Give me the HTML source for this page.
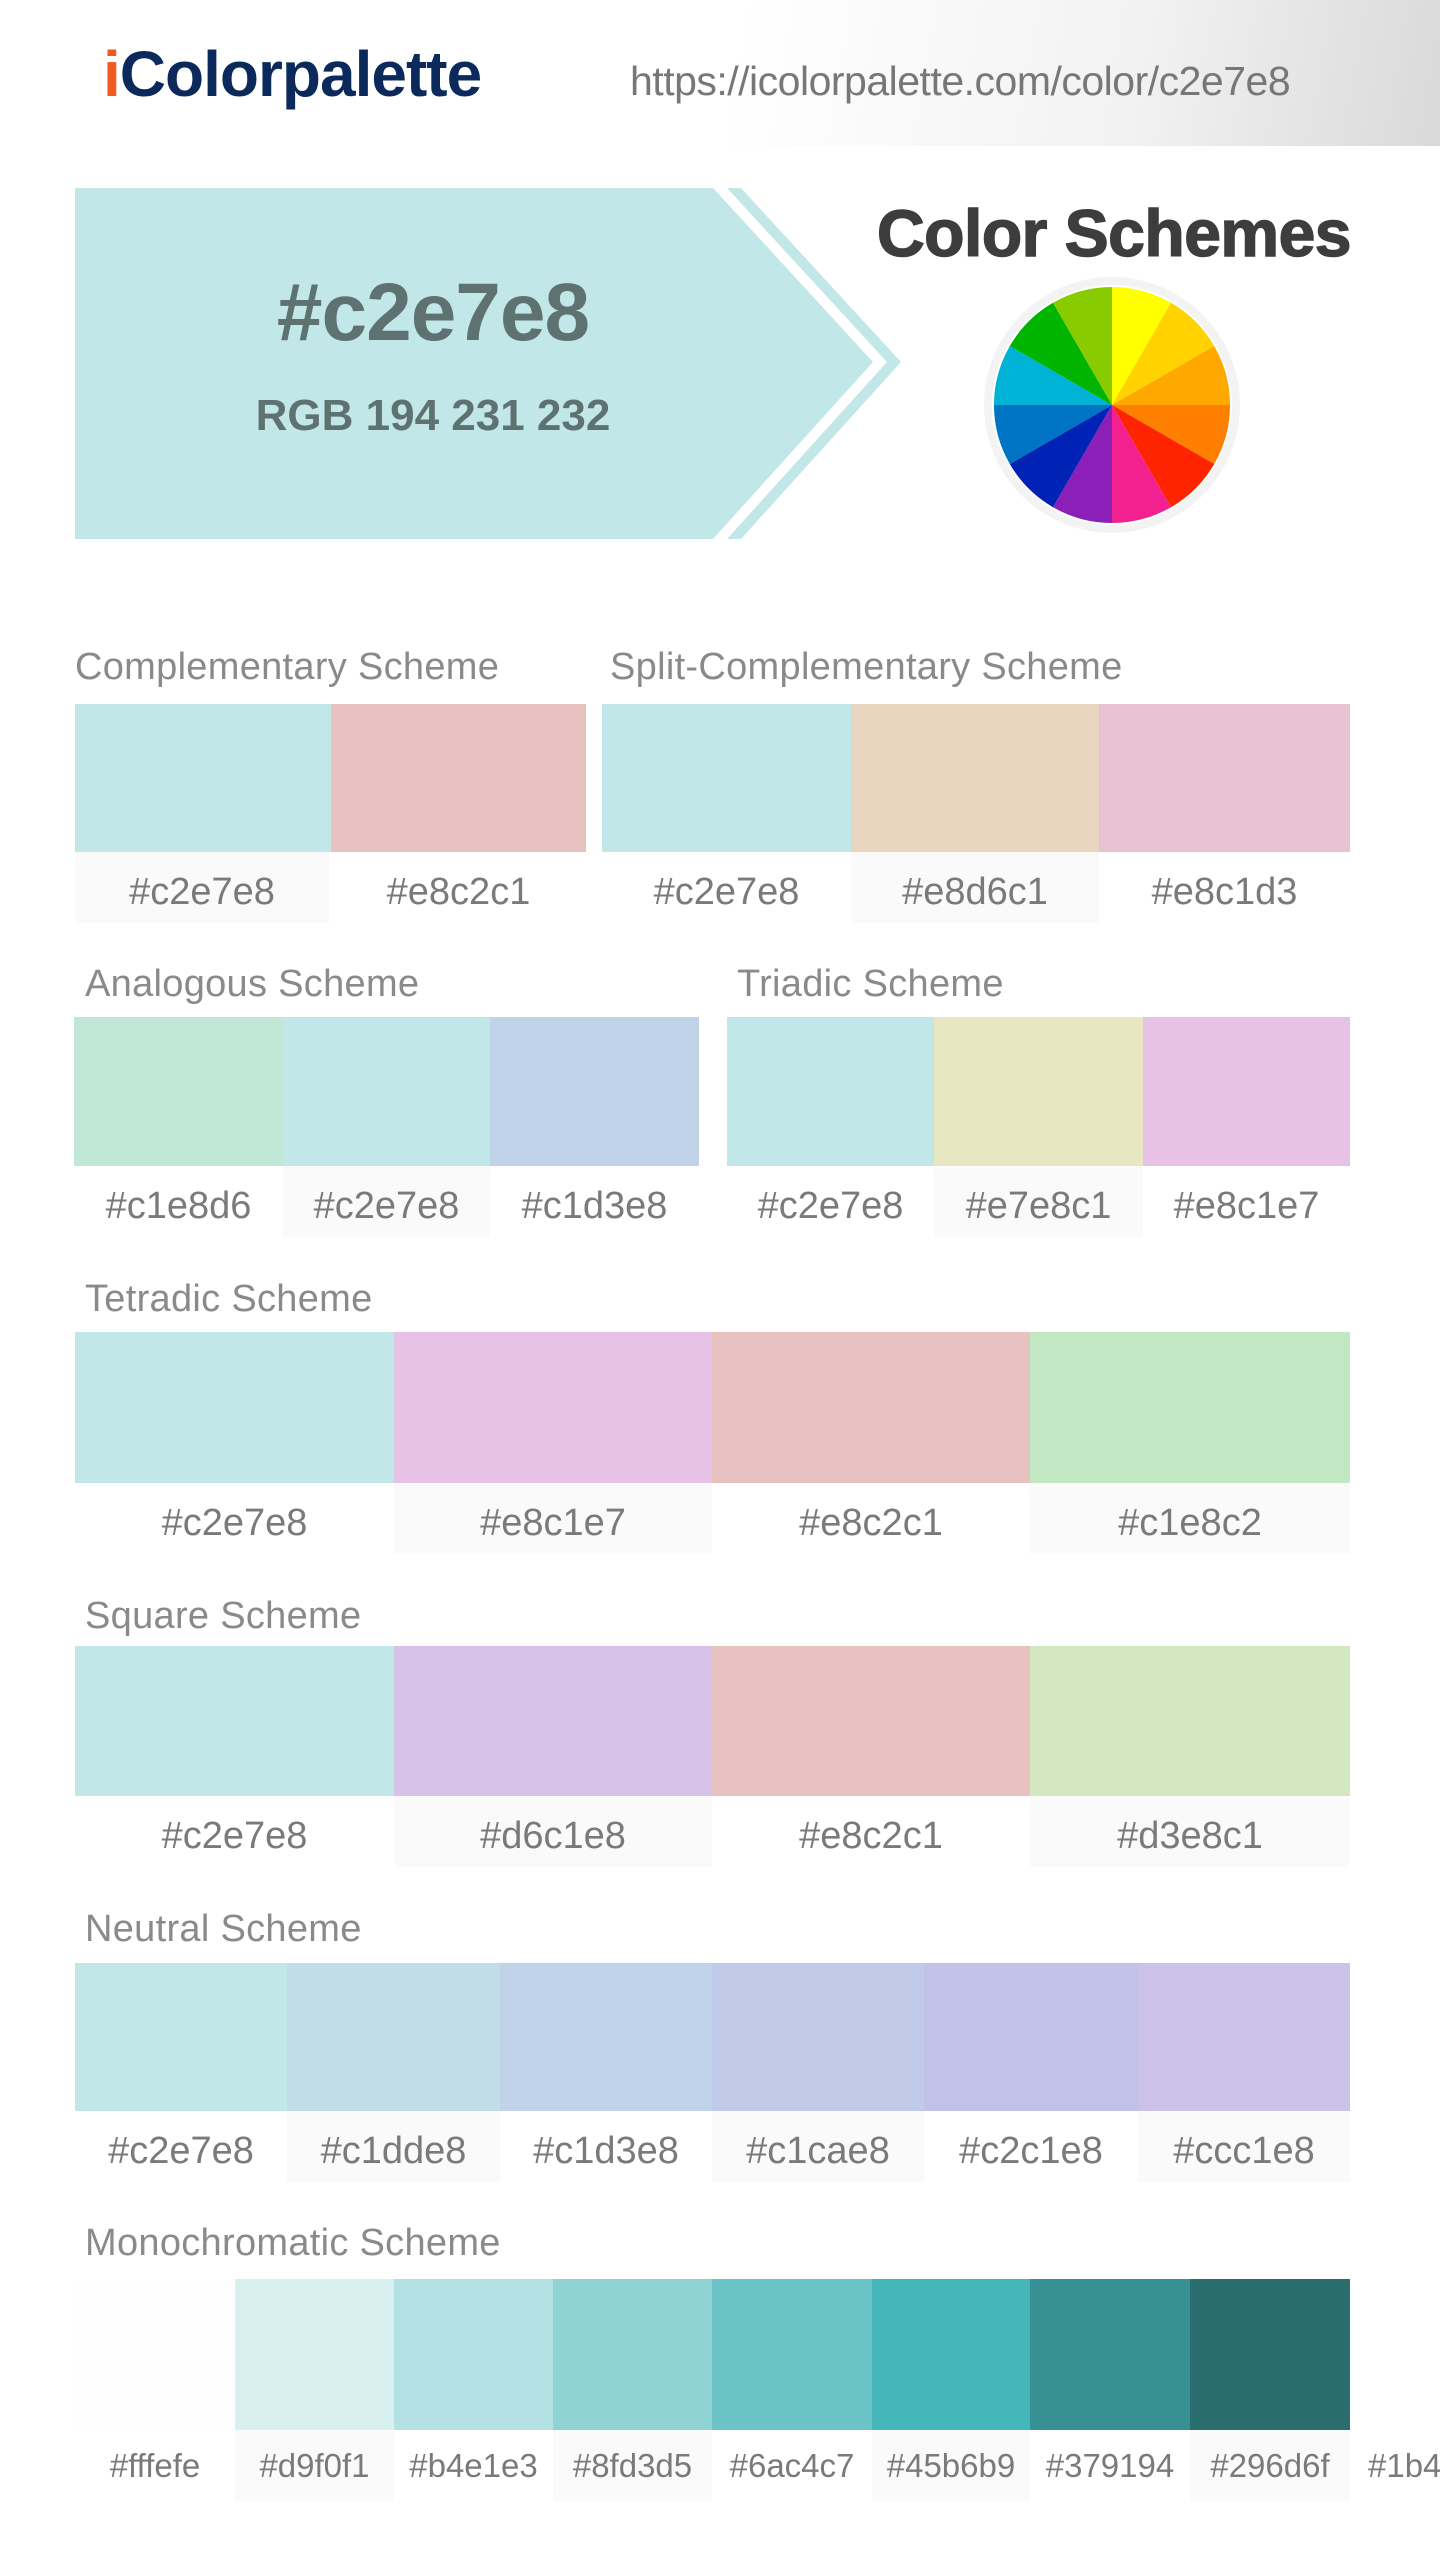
<!DOCTYPE html>
<html><head><meta charset="utf-8"><style>
*{margin:0;padding:0;box-sizing:border-box}
body{width:1440px;height:2560px;background:#fff;position:relative;overflow:hidden;font-family:"Liberation Sans",sans-serif}
.a{position:absolute}
.t{position:absolute;font-size:38px;color:#8a8a8a;font-weight:300;letter-spacing:0.3px;line-height:1;white-space:nowrap}
.s{position:absolute}
.l{position:absolute;font-size:38px;color:#7a7a7a;text-align:center;line-height:80px;height:71px;white-space:nowrap;overflow:visible}
.g{background:#fafafa}
.m{font-size:33px;line-height:71px;height:71px}
</style></head><body>
<div class="a" style="left:560px;top:0;width:880px;height:150px;background:linear-gradient(100deg,#fff 20%,#f2f2f2 65%,#d9d9d9 100%)"></div>
<div class="a" style="left:600px;top:146px;width:840px;height:4px;background:#fff"></div>
<div class="a" style="left:103px;top:42px;font-size:64px;font-weight:bold;color:#0b2a5b;letter-spacing:-1px;line-height:1"><span style="color:#f05a1e">i</span>Colorpalette</div>
<div class="a" style="left:630px;top:61px;font-size:41px;color:#777;line-height:1;letter-spacing:-0.5px">https://icolorpalette.com/color/c2e7e8</div>
<svg class="a" style="left:0;top:0" width="1440" height="600">
<polygon points="75,188 713,188 873,362 713,539 75,539" fill="#c2e7e8"/>
<polygon points="727,188 741,188 901,362 741,539 727,539 887,362" fill="#c2e7e8"/>
<circle cx="1112" cy="405" r="128" fill="#f3f3f3"/>
<circle cx="1112" cy="405" r="120" fill="#fff"/>
<g transform="translate(1112,405)">
<path d="M0,0 L0,-118 A118,118 0 0 1 59,-102.2 Z" fill="#ffff00"/>
<path d="M0,0 L59,-102.2 A118,118 0 0 1 102.2,-59 Z" fill="#ffd200"/>
<path d="M0,0 L102.2,-59 A118,118 0 0 1 118,0 Z" fill="#ffa800"/>
<path d="M0,0 L118,0 A118,118 0 0 1 102.2,59 Z" fill="#ff7f00"/>
<path d="M0,0 L102.2,59 A118,118 0 0 1 59,102.2 Z" fill="#ff2400"/>
<path d="M0,0 L59,102.2 A118,118 0 0 1 0,118 Z" fill="#f2218f"/>
<path d="M0,0 L0,118 A118,118 0 0 1 -59,102.2 Z" fill="#8b1fb8"/>
<path d="M0,0 L-59,102.2 A118,118 0 0 1 -102.2,59 Z" fill="#0022b5"/>
<path d="M0,0 L-102.2,59 A118,118 0 0 1 -118,0 Z" fill="#0074c4"/>
<path d="M0,0 L-118,0 A118,118 0 0 1 -102.2,-59 Z" fill="#00b2d6"/>
<path d="M0,0 L-102.2,-59 A118,118 0 0 1 -59,-102.2 Z" fill="#00b400"/>
<path d="M0,0 L-59,-102.2 A118,118 0 0 1 0,-118 Z" fill="#88cc00"/>
</g>
</svg>
<div class="a" style="left:243px;top:272px;width:380px;text-align:center;font-size:82px;font-weight:bold;color:#5f7272;line-height:1;letter-spacing:-1px">#c2e7e8</div>
<div class="a" style="left:183px;top:394px;width:500px;text-align:center;font-size:44px;font-weight:bold;color:#5f7272;line-height:1">RGB 194 231 232</div>
<div class="a" style="left:877px;top:200px;font-size:66px;font-weight:900;color:#3d3d3d;line-height:1;letter-spacing:-0.5px;-webkit-text-stroke:1.5px #3d3d3d">Color Schemes</div>

<div class="t" style="left:75px;top:648px">Complementary Scheme</div>
<div class="s" style="left:75px;top:704px;width:256px;height:148px;background:#c2e7e8"></div>
<div class="s" style="left:331px;top:704px;width:255px;height:148px;background:#e8c2c1"></div>
<div class="l g" style="left:75px;top:852px;width:254px">#c2e7e8</div>
<div class="l" style="left:331px;top:852px;width:255px">#e8c2c1</div>

<div class="t" style="left:610px;top:648px">Split-Complementary Scheme</div>
<div class="s" style="left:602px;top:704px;width:249px;height:148px;background:#c2e7e8"></div>
<div class="s" style="left:851px;top:704px;width:248px;height:148px;background:#e8d6c1"></div>
<div class="s" style="left:1099px;top:704px;width:251px;height:148px;background:#e8c1d3"></div>
<div class="l" style="left:602px;top:852px;width:249px">#c2e7e8</div>
<div class="l g" style="left:851px;top:852px;width:248px">#e8d6c1</div>
<div class="l" style="left:1099px;top:852px;width:251px">#e8c1d3</div>

<div class="t" style="left:85px;top:965px">Analogous Scheme</div>
<div class="s" style="left:74px;top:1017px;width:209px;height:149px;background:#c1e8d6"></div>
<div class="s" style="left:283px;top:1017px;width:207px;height:149px;background:#c2e7e8"></div>
<div class="s" style="left:490px;top:1017px;width:209px;height:149px;background:#c1d3e8"></div>
<div class="l" style="left:74px;top:1166px;width:209px">#c1e8d6</div>
<div class="l g" style="left:283px;top:1166px;width:207px">#c2e7e8</div>
<div class="l" style="left:490px;top:1166px;width:209px">#c1d3e8</div>

<div class="t" style="left:737px;top:965px">Triadic Scheme</div>
<div class="s" style="left:727px;top:1017px;width:207px;height:149px;background:#c2e7e8"></div>
<div class="s" style="left:934px;top:1017px;width:209px;height:149px;background:#e7e8c1"></div>
<div class="s" style="left:1143px;top:1017px;width:207px;height:149px;background:#e8c1e7"></div>
<div class="l" style="left:727px;top:1166px;width:207px">#c2e7e8</div>
<div class="l g" style="left:934px;top:1166px;width:209px">#e7e8c1</div>
<div class="l" style="left:1143px;top:1166px;width:207px">#e8c1e7</div>

<div class="t" style="left:85px;top:1280px">Tetradic Scheme</div>
<div class="s" style="left:75px;top:1332px;width:319px;height:151px;background:#c2e7e8"></div>
<div class="s" style="left:394px;top:1332px;width:318px;height:151px;background:#e8c1e7"></div>
<div class="s" style="left:712px;top:1332px;width:318px;height:151px;background:#e8c2c1"></div>
<div class="s" style="left:1030px;top:1332px;width:320px;height:151px;background:#c1e8c2"></div>
<div class="l" style="left:75px;top:1483px;width:319px">#c2e7e8</div>
<div class="l g" style="left:394px;top:1483px;width:318px">#e8c1e7</div>
<div class="l" style="left:712px;top:1483px;width:318px">#e8c2c1</div>
<div class="l g" style="left:1030px;top:1483px;width:320px">#c1e8c2</div>

<div class="t" style="left:85px;top:1597px">Square Scheme</div>
<div class="s" style="left:75px;top:1646px;width:319px;height:150px;background:#c2e7e8"></div>
<div class="s" style="left:394px;top:1646px;width:318px;height:150px;background:#d6c1e8"></div>
<div class="s" style="left:712px;top:1646px;width:318px;height:150px;background:#e8c2c1"></div>
<div class="s" style="left:1030px;top:1646px;width:320px;height:150px;background:#d3e8c1"></div>
<div class="l" style="left:75px;top:1796px;width:319px">#c2e7e8</div>
<div class="l g" style="left:394px;top:1796px;width:318px">#d6c1e8</div>
<div class="l" style="left:712px;top:1796px;width:318px">#e8c2c1</div>
<div class="l g" style="left:1030px;top:1796px;width:320px">#d3e8c1</div>

<div class="t" style="left:85px;top:1910px">Neutral Scheme</div>
<div class="s" style="left:75px;top:1963px;width:212px;height:148px;background:#c2e7e8"></div>
<div class="s" style="left:287px;top:1963px;width:213px;height:148px;background:#c1dde8"></div>
<div class="s" style="left:500px;top:1963px;width:212px;height:148px;background:#c1d3e8"></div>
<div class="s" style="left:712px;top:1963px;width:212px;height:148px;background:#c1cae8"></div>
<div class="s" style="left:924px;top:1963px;width:214px;height:148px;background:#c2c1e8"></div>
<div class="s" style="left:1138px;top:1963px;width:212px;height:148px;background:#ccc1e8"></div>
<div class="l" style="left:75px;top:2111px;width:212px">#c2e7e8</div>
<div class="l g" style="left:287px;top:2111px;width:213px">#c1dde8</div>
<div class="l" style="left:500px;top:2111px;width:212px">#c1d3e8</div>
<div class="l g" style="left:712px;top:2111px;width:212px">#c1cae8</div>
<div class="l" style="left:924px;top:2111px;width:214px">#c2c1e8</div>
<div class="l g" style="left:1138px;top:2111px;width:212px">#ccc1e8</div>

<div class="t" style="left:85px;top:2224px">Monochromatic Scheme</div>
<div class="s" style="left:75px;top:2279px;width:160px;height:151px;background:#fffefe"></div>
<div class="s" style="left:235px;top:2279px;width:159px;height:151px;background:#d9f0f1"></div>
<div class="s" style="left:394px;top:2279px;width:159px;height:151px;background:#b4e1e3"></div>
<div class="s" style="left:553px;top:2279px;width:159px;height:151px;background:#8fd3d5"></div>
<div class="s" style="left:712px;top:2279px;width:160px;height:151px;background:#6ac4c7"></div>
<div class="s" style="left:872px;top:2279px;width:158px;height:151px;background:#45b6b9"></div>
<div class="s" style="left:1030px;top:2279px;width:160px;height:151px;background:#379194"></div>
<div class="s" style="left:1190px;top:2279px;width:160px;height:151px;background:#296d6f"></div>
<div class="l m" style="left:75px;top:2430px;width:160px">#fffefe</div>
<div class="l m g" style="left:235px;top:2430px;width:159px">#d9f0f1</div>
<div class="l m" style="left:394px;top:2430px;width:159px">#b4e1e3</div>
<div class="l m g" style="left:553px;top:2430px;width:159px">#8fd3d5</div>
<div class="l m" style="left:712px;top:2430px;width:160px">#6ac4c7</div>
<div class="l m g" style="left:872px;top:2430px;width:158px">#45b6b9</div>
<div class="l m" style="left:1030px;top:2430px;width:160px">#379194</div>
<div class="l m g" style="left:1190px;top:2430px;width:160px">#296d6f</div>
<div class="l m" style="left:1368px;top:2430px;width:160px;text-align:left">#1b4849</div>
</body></html>
